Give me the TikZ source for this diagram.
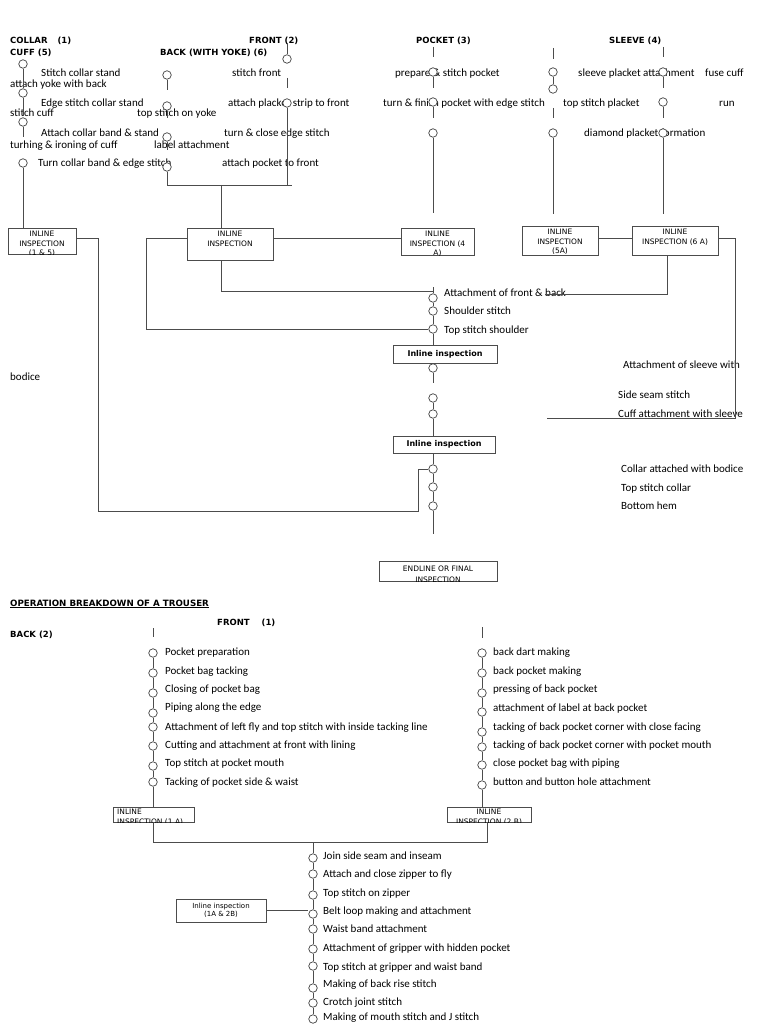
\documentclass[tikz,border=0pt]{standalone}
\usepackage{fontspec}
\setmainfont{Carlito}
\newfontfamily\dvs{DejaVu Sans}
\begin{document}
\begin{tikzpicture}[x=1pt,y=-1pt,
  ln/.style={draw=black!70, line width=0.7pt},
  st/.style={circle, draw=black!75, fill=white, line width=0.7pt, minimum size=8.5pt, inner sep=0pt},
  tx/.style={anchor=west, inner sep=0pt, font=\fontsize{11}{13}\selectfont, text height=7pt, text depth=0pt},
  hd/.style={anchor=west, inner sep=0pt, font=\dvs\bfseries\fontsize{8.5}{10}\selectfont, text height=6pt, text depth=0pt},
  bx/.style={draw=black!70, line width=0.7pt, inner sep=0pt},
  bt/.style={anchor=north, inner sep=0pt, align=center, font=\dvs\fontsize{7.5}{9.5}\selectfont},
  bbold/.style={font=\dvs\bfseries\fontsize{8}{10}\selectfont}]
\useasboundingbox[fill=white] (0,0) rectangle (768,1024);

% ---------- headers ----------
\node[hd] (hCollar) at (10,41) {COLLAR\hspace{10pt}(1)};
\node[hd] (hCuff) at (10,53) {CUFF (5)};
\node[hd] (hFront) at (249,41) {FRONT (2)};
\node[hd] (hBack) at (160,53) {BACK (WITH YOKE) (6)};
\node[hd] (hPocket) at (416,41) {POCKET (3)};
\node[hd] (hSleeve) at (609,41) {SLEEVE (4)};

% ---------- top texts ----------
\node[tx] (a1) at (41,73) {Stitch collar stand};
\node[tx] (a2) at (10,84) {attach yoke with back};
\node[tx] (a3) at (41,103) {Edge stitch collar stand};
\node[tx] (a4) at (10,113) {stitch cuff};
\node[tx] (a5) at (41,133) {Attach collar band \& stand};
\node[tx] (a6) at (10,145) {turhing \& ironing of cuff};
\node[tx] (a7) at (38,163) {Turn collar band \& edge stitch};
\node[tx] (b1) at (232,73) {stitch front};
\node[tx] (b2) at (137,113) {top stitch on yoke};
\node[tx] (b3) at (154,145) {label attachment};
\node[tx] (b4) at (228,103) {attach placket strip to front};
\node[tx] (b5) at (224,133) {turn \& close edge stitch};
\node[tx] (b6) at (222,163) {attach pocket to front};
\node[tx] (p1) at (395,73) {prepare \& stitch pocket};
\node[tx] (p2) at (383,103) {turn \& finish pocket with edge stitch};
\node[tx] (s1) at (578,73) {sleeve placket attachment};
\node[tx] (s2) at (705,73) {fuse cuff};
\node[tx] (s3) at (563,103) {top stitch placket};
\node[tx] (s4) at (719,103) {run};
\node[tx] (s5) at (584,133) {diamond placket formation};

% ---------- middle texts ----------
\node[tx] (m1) at (444,293) {Attachment of front \& back};
\node[tx] (m2) at (444,311) {Shoulder stitch};
\node[tx] (m3) at (444,330) {Top stitch shoulder};
\node[tx] (r1) at (623,365) {Attachment of sleeve with};
\node[tx] (r2) at (618,395) {Side seam stitch};
\node[tx] (r3) at (618,414) {Cuff attachment with sleeve};
\node[tx] (r4) at (621,469) {Collar attached with bodice};
\node[tx] (r5) at (621,488) {Top stitch collar};
\node[tx] (r6) at (621,506) {Bottom hem};
\node[tx] (bod) at (10,377) {bodice};

% ---------- trouser texts ----------
\node[hd, font=\dvs\bfseries\fontsize{8.7}{10}\selectfont] (hOp) at (10,603) {\underline{OPERATION BREAKDOWN OF A TROUSER}};
\node[hd] (hTF) at (217,622) {FRONT\hspace{12pt}(1)};
\node[hd] (hTB) at (10,634) {BACK (2)};

\foreach \y/\t [count=\i] in {652/Pocket preparation, 671/Pocket bag tacking, 689/Closing of pocket bag, 707/Piping along the edge, 727/Attachment of left fly and top stitch with inside tacking line, 745/Cutting and attachment at front with lining, 763/Top stitch at pocket mouth, 782/Tacking of pocket side \& waist}
  \node[tx] (ft\i) at (165,\y) {\t};
\foreach \y/\t [count=\i] in {652/back dart making, 671/back pocket making, 689/pressing of back pocket, 708/attachment of label at back pocket, 727/tacking of back pocket corner with close facing, 745/tacking of back pocket corner with pocket mouth, 763/close pocket bag with piping, 782/button and button hole attachment}
  \node[tx] (bt\i) at (493,\y) {\t};
\foreach \y/\t [count=\i] in {856/Join side seam and inseam, 874/Attach and close zipper to fly, 893/Top stitch on zipper, 911/Belt loop making and attachment, 929/Waist band attachment, 948/Attachment of gripper with hidden pocket, 967/Top stitch at gripper and waist band, 984/Making of back rise stitch, 1002/Crotch joint stitch, 1017/Making of mouth stitch and J stitch}
  \node[tx] (jt\i) at (323,\y) {\t};

% ---------- stitch circles (top) ----------
\foreach \y [count=\i] in {64,93,122,163} \node[st] (cl\i) at (23,\y) {};
\foreach \y [count=\i] in {75,106,137,167} \node[st] (by\i) at (167,\y) {};
\node[st] (fr1) at (287,59) {};
\node[st] (fr2) at (287,103) {};
\foreach \y [count=\i] in {72,102,133} \node[st] (pk\i) at (433,\y) {};
\foreach \y [count=\i] in {72,89,133} \node[st] (sl\i) at (553,\y) {};
\foreach \y [count=\i] in {72,102,133} \node[st] (sr\i) at (663,\y) {};

% ---------- spine circles (middle) ----------
\foreach \y [count=\i] in {298,311,329,368,398,414,469,487,506} \node[st] (sp\i) at (433,\y) {};

% ---------- trouser circles ----------
\foreach \y [count=\i] in {653,673,693,713,727,746,766,782} \node[st] (fc\i) at (153,\y) {};
\foreach \y [count=\i] in {653,673,693,712,732,747,765,785} \node[st] (bc\i) at (482,\y) {};
\foreach \y [count=\i] in {858,874,895,914,929,949,966,988,1003,1019} \node[st] (tc\i) at (313,\y) {};

% ---------- boxes ----------
\node[bx, minimum width=68pt, minimum height=26pt] (bA) at (42,241) {};
\node[bx, minimum width=86pt, minimum height=32pt] (bB) at (230,244) {};
\node[bx, minimum width=73pt, minimum height=27pt] (bC) at (437.5,241.5) {};
\node[bx, minimum width=76pt, minimum height=29pt] (bD) at (560,240.5) {};
\node[bx, minimum width=86pt, minimum height=29pt] (bE) at (675,240.5) {};
\node[bx, minimum width=104pt, minimum height=18pt, bbold] (i1) at (445,354) {Inline inspection};
\node[bx, minimum width=102pt, minimum height=17pt, bbold] (i2) at (444,444.5) {Inline inspection};
\node[bx, minimum width=118pt, minimum height=20pt] (eb) at (438,571) {};
\node[bx, minimum width=81pt, minimum height=15pt] (fb) at (153.5,814.5) {};
\node[bx, minimum width=84pt, minimum height=15pt] (bb) at (489,814.5) {};
\node[bx, minimum width=90pt, minimum height=23pt] (ib) at (221,910.5) {};

% box texts (clipped by their boxes)
\begin{scope}\clip (bA.south west) rectangle (bA.north east);
\node[bt] (tA) at (42,231.3) {INLINE\\INSPECTION\\(1 \& 5)};\end{scope}
\begin{scope}\clip (bB.south west) rectangle (bB.north east);
\node[bt] (tB) at (230,231.3) {INLINE\\INSPECTION};\end{scope}
\begin{scope}\clip (bC.south west) rectangle (bC.north east);
\node[bt] (tC) at (437.5,231.3) {INLINE\\INSPECTION (4\\A)};\end{scope}
\begin{scope}\clip (bD.south west) rectangle (bD.north east);
\node[bt] (tD) at (560,229.3) {INLINE\\INSPECTION\\(5A)};\end{scope}
\begin{scope}\clip (bE.south west) rectangle (bE.north east);
\node[bt] (tE) at (675,229.3) {INLINE\\INSPECTION (6 A)};\end{scope}
\begin{scope}\clip (eb.south west) rectangle (eb.north east);
\node[bt, font=\dvs\fontsize{7.5}{11}\selectfont] (tEnd) at (438,565.3) {ENDLINE OR FINAL\\INSPECTION};\end{scope}
\begin{scope}\clip (fb.south west) rectangle (fb.north east);
\node[bt, anchor=north west, align=left] (tF) at (117,809.3) {INLINE\\INSPECTION (1 A)};\end{scope}
\begin{scope}\clip (bb.south west) rectangle (bb.north east);
\node[bt] (tBk) at (489,809.3) {INLINE\\INSPECTION (2 B)};\end{scope}
\node[bt, font=\dvs\fontsize{7}{8}\selectfont] (tI) at (221,903.4) {Inline inspection\\(1A \& 2B)};

% ---------- connectors top ----------
\draw[ln] (cl1) -- (23,88);
\draw[ln] (cl2) -- (23,116);
\draw[ln] (cl3) -- (23,137);
\draw[ln] (cl4) -- (cl4 |- bA.north);
\draw[ln] (by1) -- (167,90);
\draw[ln] (by2) -- (167,118);
\draw[ln] (by3) -- (167,150);
\draw[ln] (by4) -- (167,185) -- (292,185);
\coordinate (jB) at (221,185);
\draw[ln] (jB) -- (jB |- bB.north);
\coordinate (frTop) at (287,43);
\draw[ln] (frTop) -- (fr1);
\coordinate (frA) at (287,78); \coordinate (frB) at (287,88);
\draw[ln] (frA) -- (frB);
\draw[ln] (fr2) -- (287,185);
\coordinate (pkT1) at (433,47); \coordinate (pkT2) at (433,57);
\draw[ln] (pkT1) -- (pkT2);
\draw[ln] (pk1) -- (433,88);
\draw[ln] (pk2) -- (433,118);
\draw[ln] (pk3) -- (433,213);
\coordinate (slT1) at (553,48); \coordinate (slT2) at (553,59);
\draw[ln] (slT1) -- (slT2);
\draw[ln] (sl1) -- (sl2);
\coordinate (slA) at (553,108); \coordinate (slB) at (553,118);
\draw[ln] (slA) -- (slB);
\draw[ln] (sl3) -- (553,214);
\coordinate (srT1) at (663,47); \coordinate (srT2) at (663,57);
\draw[ln] (srT1) -- (srT2);
\draw[ln] (sr1) -- (663,88);
\draw[ln] (sr2) -- (663,118);
\draw[ln] (sr3) -- (663,214);

% ---------- connectors boxes ----------
\coordinate (bAr) at (98,238);
\coordinate (bBl) at (146,238);
\coordinate (bEr) at (735,238);
\draw[ln] (bA.east |- bAr) -- (bAr) -- (98,511) -- (418,511) -- (418,469) -- (sp7);
\draw[ln] (bB.west |- bBl) -- (bBl) -- (146,329) -- (sp3);
\draw[ln] (bB.east |- bBl) -- (bC.west |- bBl);
\coordinate (bBd) at (221,291);
\draw[ln] (bB.south -| bBd) -- (bBd) -- (433,291);
\draw[ln] (bD.east |- bEr) -- (bE.west |- bEr);
\draw[ln] (bE.east |- bEr) -- (bEr) -- (735,418) -- (547,418);
\coordinate (bEd) at (667,294);
\draw[ln] (bE.south -| bEd) -- (bEd) -- (545,294);

% ---------- spine middle ----------
\coordinate (spTop) at (433,287);
\draw[ln] (spTop) -- (sp1) -- (sp2) -- (sp3) -- (sp3 |- i1.north);
\draw[ln] (sp4 |- i1.south) -- (sp4) -- (433,383);
\draw[ln] (sp5) -- (sp6) -- (sp6 |- i2.north);
\draw[ln] (sp7 |- i2.south) -- (sp7) -- (sp8) -- (sp9) -- (433,534);

% ---------- trouser connectors ----------
\coordinate (ftk1) at (153,628); \coordinate (ftk2) at (153,637);
\draw[ln] (ftk1) -- (ftk2);
\draw[ln] (fc1) -- (fc2) -- (fc3) -- (fc4) -- (fc5) -- (fc6) -- (fc7) -- (fc8) -- (fc8 |- fb.north);
\coordinate (btk1) at (482,627); \coordinate (btk2) at (482,638);
\draw[ln] (btk1) -- (btk2);
\draw[ln] (bc1) -- (bc2) -- (bc3) -- (bc4) -- (bc5) -- (bc6) -- (bc7) -- (bc8) -- (bc8 |- bb.north);
\coordinate (jT) at (313,842);
\coordinate (jR) at (487,842);
\draw[ln] (fb.south) -- (153.5,842) -- (jR) -- (jR |- bb.south);
\draw[ln] (jT) -- (tc1) -- (tc2) -- (tc3) -- (tc4) -- (tc5) -- (tc6) -- (tc7) -- (tc8) -- (tc9) -- (tc10) -- (313,1030);
\draw[ln] (ib.east) -- (ib.east -| tc4.west);
\end{tikzpicture}
\end{document}
